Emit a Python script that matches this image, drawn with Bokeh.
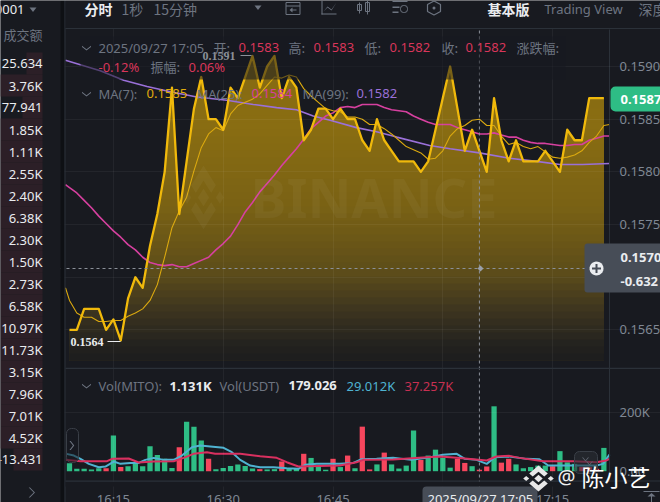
import numpy as np
from bokeh.embed import file_html
from bokeh.resources import INLINE
from bokeh.plotting import figure
from bokeh.models import (Label, BoxAnnotation, PolyAnnotation, Span, FixedTicker, LinearAxis,
                          Range1d, Grid)

# ---------- data ----------
price = [0.1565,0.1565,0.1567,0.1567,0.1567,0.1565,0.1566,0.1564,0.1568,0.1570,
         0.1569,0.1573,0.1576,0.1580,0.1588,0.1576,0.1581,0.1586,0.1589,0.1585,
         0.1585,0.1584,0.1588,0.1587,0.1589,0.1591,0.1588,0.1590,0.1591,0.1587,
         0.1589,0.1588,0.1583,0.1584,0.1586,0.1586,0.1585,0.1586,0.1585,0.1585,
         0.1583,0.1582,0.1585,0.1583,0.1582,0.1581,0.1581,0.1581,0.1580,0.1581,
         0.1584,0.1587,0.1590,0.1586,0.1582,0.1584,0.1582,0.1580,0.1587,0.1583,
         0.1581,0.1583,0.1581,0.1581,0.1581,0.1582,0.1581,0.1580,0.1584,0.1583,
         0.1583,0.1587,0.1587,0.1587]
ma_x = [-0.55] + list(range(74)) + [73.77]
ma7 = [0.15690,0.15678,0.15666,0.15662,0.15662,0.15658,0.15658,0.15659,0.15659,0.15663,0.15666,
       0.15670,0.15678,0.15693,0.15719,0.15747,0.15763,0.15776,0.15801,0.15823,0.15836,
       0.15842,0.15839,0.15855,0.15863,0.15866,0.15869,0.15874,0.15882,0.15890,0.15889,
       0.15892,0.15890,0.15879,0.15872,0.15866,0.15860,0.15858,0.15857,0.15852,0.15852,
       0.15850,0.15845,0.15845,0.15841,0.15836,0.15830,0.15824,0.15821,0.15818,0.15812,
       0.15813,0.15820,0.15834,0.15841,0.15844,0.15849,0.15850,0.15844,0.15844,0.15834,
       0.15826,0.15828,0.15824,0.15822,0.15824,0.15819,0.15814,0.15813,0.15814,0.15816,
       0.15820,0.15828,0.15834,0.15844,0.15845]
ma25 = [0.15788,0.15785,0.15780,0.15773,0.15766,0.15758,0.15751,0.15744,0.15738,0.15731,0.15726,
        0.15719,0.15714,0.15712,0.15711,0.15712,0.15710,0.15710,0.15713,0.15716,0.15719,
        0.15726,0.15732,0.15739,0.15750,0.15762,0.15771,0.15781,0.15789,0.15797,0.15806,
        0.15814,0.15822,0.15831,0.15841,0.15847,0.15853,0.15856,0.15861,0.15862,0.15861,
        0.15864,0.15864,0.15864,0.15861,0.15859,0.15858,0.15857,0.15853,0.15850,0.15847,
        0.15845,0.15845,0.15845,0.15842,0.15840,0.15838,0.15836,0.15836,0.15837,0.15835,
        0.15833,0.15833,0.15830,0.15828,0.15827,0.15827,0.15826,0.15825,0.15825,0.15826,
        0.15826,0.15830,0.15832,0.15834,0.15834]
ma99_x = [-0.55,4.2,7.4,10.6,13.8,17.4,21.5,25.1,28.3,31,33.3,35.6,39.2,41.95,44.7,49.2,52,56,60.1,63.8,67,70.1,73.77]
ma99 = [0.15906,0.15896,0.15887,0.15881,0.15876,0.15871,0.15868,0.15864,0.15861,0.15859,0.15853,0.15849,
        0.15842,0.15838,0.15833,0.15825,0.15822,0.15818,0.15813,0.15810,0.15807,0.15807,0.15808]
volume = [27,8,8,6,10,10,121,14,17,25,17,85,55,42,11,81,168,151,104,42,7,11,18,23,18,9,7,6,7,33,8,8,59,45,17,5,42,
          14,53,10,151,6,23,63,23,9,19,138,38,53,73,45,12,42,28,17,5,16,220,29,42,23,10,14,19,19,17,68,30,25,14,14,8,79]
vol_up = [1,1,1,1,1,0,1,0,1,1,1,1,1,1,1,0,1,1,1,0,1,1,1,1,1,1,0,1,1,0,1,1,0,1,1,1,0,
          1,0,1,0,0,1,0,1,1,1,1,0,1,1,1,1,0,0,1,0,0,1,0,0,1,1,1,1,1,0,1,1,1,0,0,0,1]
vb_x = [-0.41,0.6,1.5,2.64,4,4.91,6.05,6.95,8.32,9.45,10.36,11.5,12.86,14.23,15.36,16.73,17.86,19.23,21.05,22.18,
        23.32,24.68,26.05,27.86,29.68,31.27,32.18,33.77,36.95,38.77,39.9,41.95,44.2,46.7,48.8,51,52.9,54,55.6,57,
        58.1,60.1,62.4,64.2,65.4,68.8,72,72.9,73.77]
vol_ma_usdt = [58.8,53,41.8,24.9,13.6,15.8,32.8,24.9,28.2,28.2,38.4,45.2,38.4,38.4,53.1,81.4,87,83.6,79.1,64.4,
        38.4,19.2,13.6,13.6,10.2,7.9,21.5,24.9,24.9,28.2,40.7,41.8,45.2,38.4,45.2,55.4,58.8,41.8,38.4,24.9,
        47.5,49.7,41.8,40.7,19.2,19.2,19.2,24.9,56.5]
vp_x = [-0.41,1.5,5.14,5.82,8.09,9.45,11.5,14.23,15.6,16.95,18.77,19.9,23.32,26.05,28.3,29.68,31.27,36.95,39.2,40.1,
        44.2,48.8,50.6,52.9,57,58.3,60.1,61.5,64.7,68.8,72,73.3,73.77]
vol_ma_base = [38.4,33.9,33.9,41.8,42.9,29.4,32.8,33.9,45.2,58.8,64.4,58.8,58.8,50.9,45.2,30.5,15.8,19.2,30.5,38.4,
        39.6,47.5,49.7,45.2,36.2,49.7,52,45.2,33.9,33.9,30.5,36.2,41.8]
price_ticks = [0.1565,0.1570,0.1575,0.1580,0.1585,0.1590]
vol_ticks = [0, 200]
vol_tick_labels = ["0.00", "200K"]
time_ticks = [6,21,36,51,66]
time_labels = ["16:15","16:30","16:45","17:00","17:15"]
side_values = ["25.634","3.76K","77.941","1.85K","1.11K","2.55K","2.40K","6.38K","2.30K","1.50K","2.73K",
               "6.58K","10.97K","11.73K","3.15K","7.96K","7.01K","4.52K","13.431"]
side_red_from = [26,0,22,0,0,0,0,0,0,0,0,0,0,0,0,0,0,0,13]

# ---------- style ----------
BG, LINE = "#181a20", "#2b3139"
GRAY, RED, GOLD = "#6d7480", "#d9365a", "#f0b90b"
PINK, PURPLE, BLUE = "#d6409f", "#9a70d8", "#4fb3d1"
UI = "Noto Sans"
CJK = "Noto Sans CJK SC"

# The frame fills the page; panes are separated by the scales and by bounds on axes.
W, H = 660, 502
px = 7.32
def price_at(y): return 0.1590 - (y - 66) * 9.49e-6
def vol_at(y): return (470.7 - y) * 3.39
def idx_at(x): return (x - 69) / px

p = figure(width=W, height=H, frame_width=W, frame_height=H,
           x_range=Range1d(idx_at(0), idx_at(W)), y_range=Range1d(price_at(H), price_at(0)),
           y_axis_location="right", output_backend="svg", toolbar_location=None,
           min_border=0, min_border_left=0, min_border_right=0, min_border_top=0, min_border_bottom=0,
           background_fill_color=BG, border_fill_color=BG, outline_line_color=None,
           styles={"position": "absolute", "left": "0px", "top": "0px"})
p.extra_y_ranges = {"vol": Range1d(vol_at(H), vol_at(0))}

def style(ax):
    ax.major_tick_line_color = None
    ax.minor_tick_line_color = None
    ax.major_tick_out = 0
    ax.major_tick_in = 0
    ax.axis_line_color = LINE
    ax.major_label_text_color = "#7f8793"
    ax.major_label_text_font = UI
    ax.major_label_text_font_size = "13px"
    ax.major_label_standoff = 10

right_x = idx_at(609)
ay = p.yaxis[0]
style(ay)
ay.fixed_location = right_x
ay.bounds = (price_at(368), price_at(29))
ay.ticker = FixedTicker(ticks=price_ticks)
ay.major_label_overrides = {t: f"{t:.4f}" for t in price_ticks}

av = LinearAxis(y_range_name="vol", ticker=FixedTicker(ticks=vol_ticks),
                major_label_overrides=dict(zip(vol_ticks, vol_tick_labels)))
style(av)
av.fixed_location = right_x
av.bounds = (vol_at(481), vol_at(368))
p.add_layout(av, "right")

ax = p.xaxis[0]
style(ax)
ax.fixed_location = price_at(481)
ax.bounds = (idx_at(65), idx_at(609))
ax.ticker = FixedTicker(ticks=time_ticks)
ax.major_label_overrides = dict(zip(time_ticks, time_labels))
ax.major_label_standoff = 8

p.grid.grid_line_color = None
gkw = dict(grid_line_color="#ffffff", grid_line_alpha=0.05, level="guide")
xg = Grid(dimension=0, ticker=FixedTicker(ticks=time_ticks), bounds=(price_at(481), price_at(29)), **gkw)
yg = Grid(dimension=1, ticker=FixedTicker(ticks=price_ticks), bounds=(idx_at(65), idx_at(609)), **gkw)
vg = Grid(dimension=1, y_range_name="vol", ticker=FixedTicker(ticks=[200]), bounds=(idx_at(65), idx_at(609)), **gkw)
for g in (xg, yg, vg):
    p.add_layout(g)

# ---------- gradient area ----------
base = 0.15621
stops_p = [0.1592, 0.1585, 0.1577, 0.15708, 0.1567, 0.1564, base]
stops_c = [(0x85,0x69,0x12),(0x8a,0x6e,0x12),(0x7a,0x62,0x15),(0x5d,0x4d,0x1a),(0x3c,0x34,0x20),(0x24,0x23,0x1f),(0x1b,0x1c,0x1e)]
xi = np.arange(len(price))
xd = np.linspace(0, len(price)-1, (len(price)-1)*24+1)
pd_ = np.interp(xd, xi, price)
levels = np.linspace(stops_p[0], base, 46)
for lv in levels[:-1]:
    c = [int(np.interp(-lv, -np.array(stops_p), [s[k] for s in stops_c])) for k in range(3)]
    p.varea(xd, y1=base, y2=np.minimum(pd_, lv), fill_color="#%02x%02x%02x" % tuple(c), fill_alpha=1)

p.line(ma99_x, ma99, line_color=PURPLE, line_width=1.6)
p.line(ma_x, ma25, line_color=PINK, line_width=1.6)
p.line(ma_x, ma7, line_color="#dba90f", line_width=1.1)
p.line(xi, price, line_color=GOLD, line_width=2.3, line_join="round")

cols = ["#2ebd85" if u else "#f6465d" for u in vol_up]
p.vbar(xi, width=0.72, bottom=0, top=volume, fill_color=cols, line_color=None, y_range_name="vol")
p.line(vb_x, vol_ma_usdt, line_color=BLUE, line_width=2, y_range_name="vol")
p.line(vp_x, vol_ma_base, line_color="#d9305f", line_width=2, y_range_name="vol")

# ---------- screen helpers: positions are page pixels of the picture ----------
def T(txt, x, y, color=GRAY, size=13, bold=False, font=UI, align="left", alpha=1.0):
    p.add_layout(Label(x=x, y=H-y, x_units="screen", y_units="screen", text=txt, text_color=color,
                       text_font=font, text_font_size=f"{size}px", text_font_style="bold" if bold else "normal",
                       text_baseline="middle", text_align=align, text_alpha=alpha))

def B(x0, y0, x1, y1, fill=None, line=None, alpha=1.0, radius=0, lw=1):
    p.add_layout(BoxAnnotation(left=x0, right=x1, top=H-y0, bottom=H-y1,
                               left_units="screen", right_units="screen", top_units="screen", bottom_units="screen",
                               fill_color=fill, fill_alpha=alpha if fill else 0,
                               line_color=line, line_alpha=1 if line else 0, line_width=lw, border_radius=radius))

def P(xs, ys, fill=None, line=None, lw=1, alpha=1.0):
    p.add_layout(PolyAnnotation(xs=list(xs), ys=[H-y for y in ys], xs_units="screen", ys_units="screen",
                                fill_color=fill, fill_alpha=alpha if fill else 0,
                                line_color=line, line_alpha=1 if line else 0, line_width=lw))

def chevron(cx, cy, color=GRAY, w=4.5, h=3.5, t=1.3, right=False):
    if right:
        xs = [cx-h/2, cx+h/2, cx-h/2, cx-h/2-t, cx+h/2-t, cx-h/2-t]
        ys = [cy-w, cy, cy+w, cy+w, cy, cy-w]
    else:
        xs = [cx-w, cx, cx+w, cx+w, cx, cx-w]
        ys = [cy-h/2, cy+h/2, cy-h/2, cy-h/2+t, cy+h/2+t, cy-h/2+t]
    P(xs, ys, fill=color)

def binance_logo(cx, cy, rx, ry, fill, alpha):
    # top and bottom chevrons, side and centre diamonds
    a, b = rx*0.62, ry*0.30
    for s in (-1, 1):
        P([cx, cx+a, cx+a*0.62, cx, cx-a*0.62, cx-a],
          [cy+s*ry, cy+s*(ry-a*ry/rx), cy+s*(ry-a*ry/rx-a*0.38*ry/rx), cy+s*(ry-a*0.62*ry/rx*0.62*2),
           cy+s*(ry-a*ry/rx-a*0.38*ry/rx), cy+s*(ry-a*ry/rx)], fill=fill, alpha=alpha)
        P([cx+s*rx*0.82+rx*0.2, cx+s*rx*0.82, cx+s*rx*0.82-rx*0.2, cx+s*rx*0.82],
          [cy, cy-ry*0.2, cy, cy+ry*0.2], fill=fill, alpha=alpha)
    P([cx+rx*0.28, cx, cx-rx*0.28, cx], [cy, cy-ry*0.28, cy, cy+ry*0.28], fill=fill, alpha=alpha)

# watermark
T("BINANCE", 250, 196, "#ffffff", 54, True, UI, alpha=0.04)
binance_logo(203, 197, 20, 32, "#ffffff", 0.04)

# crosshair
hc = "#8b9099"
p.add_layout(Span(location=56, dimension="height", line_color=hc, line_dash="3 3", line_width=1))
p.add_layout(Span(location=price_at(268), dimension="width", line_color=hc, line_dash="3 3", line_width=1))
P([477,480,483,480], [268,265,268,271], fill="#9aa0aa")

# cover crosshair outside panes and chrome
B(0, 0, 60, H, fill=BG)
B(60, 0, 64, H, fill="#0e1014")
B(64, 0, 65, H, fill=LINE)
B(65, 0, W, 27.5, fill=BG)
B(65, 481, W, 486, fill=BG)
B(65, 27.5, W, 28.5, fill=LINE)
B(65, 367.2, W, 368.4, fill=LINE)
B(65, 480, W, 481, fill=LINE)

# translucent panel behind the legend rows
B(80, 36, 565, 79, fill=BG, alpha=0.55)

# high/low marks
T("0.1591", 202, 55, "#8c9099", 12, True, "Liberation Serif")
B(240, 54.5, 251, 55.5, fill="#8c9099")
T("0.1564", 70, 341, "#eaecef", 12, True, "Liberation Serif")
B(107, 340.5, 120, 341.5, fill="#eaecef")

# legend rows
chevron(86, 47); chevron(86, 93)
T("2025/09/27 17:05", 98, 47)
for txt, x in [("开:", 213), ("高:", 288), ("低:", 364), ("收:", 441), ("涨跌幅:", 516), ("振幅:", 150)]:
    T(txt, x, 66 if txt == "振幅:" else 47, font=CJK)
for txt, x in [("0.1583", 238), ("0.1583", 313), ("0.1582", 389), ("0.1582", 465)]:
    T(txt, x, 47, RED)
T("-0.12%", 98, 66, RED); T("0.06%", 188, 66, RED)
T("MA(7):", 98, 93); T("0.1585", 146, 93, "#e0ab0c")
T("MA(25):", 196, 93); T("0.1584", 251, 93, PINK)
T("MA(99):", 302, 93); T("0.1582", 356, 93, PURPLE)

# right side price tags
B(610, 86, 664, 111, fill="#2ebd85", radius=5)
T("0.1587", 620, 99, "#ffffff", 13, True)
B(584, 243, 664, 292, fill="#474d57", radius=3)
T("0.1570", 620, 257, "#eaecef", 13, True)
T("-0.632", 620, 281, "#eaecef", 13, True)
a_ = np.linspace(0, 6.28, 24)
P(596+7*np.cos(a_), 268+7*np.sin(a_), fill="#eaecef")
B(591.5, 267, 600.5, 269, fill="#474d57"); B(595, 263.5, 597, 272.5, fill="#474d57")

# top bar
T("分时", 84, 8, "#eaecef", 14, True, CJK)
T("1秒", 121, 8, GRAY, 14, False, CJK)
T("15分钟", 153, 8, GRAY, 14, False, CJK)
P([254,261,257.5], [5,5,9.5], fill=GRAY)
T("基本版", 487, 8, "#eaecef", 14, True, CJK)
T("Trading View", 544, 8, GRAY, 13)
T("深度", 638, 8, GRAY, 14, False, CJK)
# toolbar icons
B(285.5, 2, 299.5, 14, line=GRAY); B(285.5, 5, 299.5, 6, fill=GRAY)
P([289,292,292,296,296,292,292], [9.5,7,9,9,10,10,12], fill=GRAY)
B(321, 0, 322, 14, fill=GRAY); B(321, 13, 336, 14, fill=GRAY); P([323,327,331,336,331,327], [11,6,9,2,10,7], fill=GRAY)
B(357, 4, 361, 10, line=GRAY); B(358.5, 2, 359.5, 13, fill=GRAY)
B(365, 2, 369, 11, line=GRAY); B(366.5, 0, 367.5, 14, fill=GRAY)
B(392, 0, 407, 1.5, fill=GRAY); B(392, 6, 399, 7.5, fill=GRAY); B(392, 11, 398, 12.5, fill=GRAY)
B(400, 5, 407, 12, line=GRAY, radius=3)
P([433.5,440,440,433.5,427,427], [0.5,4,11,14.5,11,4], line=GRAY, lw=1.2); B(432, 6, 435, 9, fill=GRAY, radius=2)

T("0001", 24, 9, "#eaecef", 13, False, UI, align="right")
P([29,36,32.5], [7,7,11.5], fill=GRAY)
T("成交额", 42, 34, GRAY, 13, False, CJK, align="right")
for k, (txt, st) in enumerate(zip(side_values, side_red_from)):
    yc = 63 + 22*k
    B(st, yc-11, 42, yc+11, fill="#2c1f27")
    T("-"+txt if txt == "13.431" else txt, 42, yc, "#eaecef", 13, False, UI, align="right")

# volume legend
chevron(86, 385)
T("Vol(MITO):", 98, 385); T("1.131K", 169, 385, "#eaecef", 13, True)
T("Vol(USDT)", 219, 385); T("179.026", 288, 385, "#eaecef", 13, True)
T("29.012K", 346, 385, BLUE); T("37.257K", 404, 385, "#c73052")

# chart buttons
B(66, 428, 78, 462, line="#3a3f47", radius=5, fill=BG, alpha=0.55)
chevron(72, 445, GRAY, right=True)
B(574, 451, 597, 473, line="#3a3f47", radius=5, fill="#2b2f36", alpha=0.6)
chevron(585, 458, "#5e646e", w=3); chevron(589, 462, "#5e646e", w=3)
chevron(32, 492, GRAY, right=True, w=5, h=5)

# date tag
B(422, 486, 537, 510, fill="#474d57", radius=4)
T("2025/09/27 17:05", 427, 498, "#eaecef", 13)

# user watermark
binance_logo(538, 478, 15, 13, "#e8e8e8", 1)
T("@", 557, 476, "#f0f0f0", 20)
T("陈小艺", 581, 475, "#ffffff", 23, False, CJK)
B(643, 490.5, 659, 491.5, fill=GRAY)
B(650.5, 494, 651.5, 502, fill=GRAY)
P([647,655,651], [496,496,492.5], fill=GRAY)

open("out.html", "w").write(file_html(p, INLINE))
